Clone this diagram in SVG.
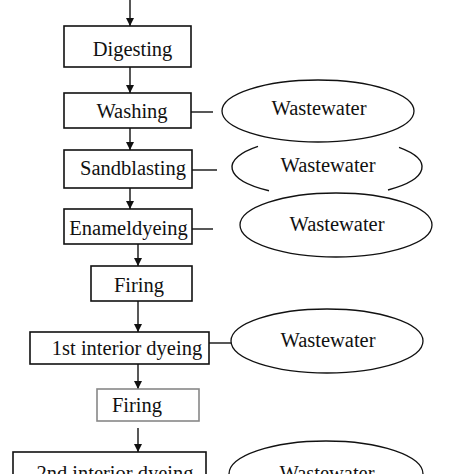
<svg xmlns="http://www.w3.org/2000/svg" width="474" height="474" viewBox="0 0 474 474">
<style>
.box{fill:#fff;stroke:#111;stroke-width:1.6}
.ell{fill:#fff;stroke:#111;stroke-width:1.3}
.t{font-family:"Liberation Serif","Times New Roman",serif;font-size:20.5px;fill:#111;text-anchor:middle}
.ln{stroke:#111;stroke-width:1.4;fill:none}
</style>
<defs>
<marker id="ah" markerUnits="userSpaceOnUse" markerWidth="9" markerHeight="9" refX="8" refY="4" orient="auto">
<path d="M0,0 L8,4 L0,8 z" fill="#111"/>
</marker>
</defs>
<rect width="474" height="474" fill="#fff"/>
<g id="connectors">
<line class="ln" x1="130" y1="0" x2="130" y2="26" marker-end="url(#ah)"/>
<line class="ln" x1="130" y1="67" x2="130" y2="93" marker-end="url(#ah)"/>
<line class="ln" x1="130" y1="128" x2="130" y2="150" marker-end="url(#ah)"/>
<line class="ln" x1="130" y1="188" x2="130" y2="209" marker-end="url(#ah)"/>
<line class="ln" x1="138" y1="244" x2="138" y2="266" marker-end="url(#ah)"/>
<line class="ln" x1="138" y1="301" x2="138" y2="332" marker-end="url(#ah)"/>
<line class="ln" x1="138" y1="364" x2="138" y2="389" marker-end="url(#ah)"/>
<line class="ln" x1="138" y1="428" x2="138" y2="452" marker-end="url(#ah)"/>
<line class="ln" x1="191" y1="112" x2="213" y2="112"/>
<line class="ln" x1="192" y1="170" x2="217" y2="170"/>
<line class="ln" x1="192" y1="229" x2="213" y2="229"/>
<line class="ln" x1="209" y1="343" x2="232" y2="343" stroke="#555"/>
</g>
<g id="digesting"><rect class="box" x="64" y="26" width="127" height="41"/><text class="t" x="132.5" y="56">Digesting</text></g>
<g id="washing"><rect class="box" x="64" y="93" width="127" height="35"/><text class="t" x="132" y="118">Washing</text></g>
<g id="sandblasting"><rect class="box" x="64" y="150" width="128" height="38"/><text class="t" x="133" y="175">Sandblasting</text></g>
<g id="enameldyeing"><rect class="box" x="64" y="209" width="128" height="35"/><text class="t" x="128.5" y="235">Enameldyeing</text></g>
<g id="firing1"><rect class="box" x="91" y="266" width="101" height="35"/><text class="t" x="139" y="291.5">Firing</text></g>
<g id="interior1"><rect class="box" x="30" y="332" width="179" height="32"/><text class="t" x="127" y="354.5">1st interior dyeing</text></g>
<g id="firing2"><rect class="box" x="97" y="389" width="102" height="32" style="stroke:#888"/><text class="t" x="137" y="411.5">Firing</text></g>
<g id="interior2"><rect class="box" x="13" y="452" width="193" height="30"/><text class="t" x="115" y="480">2nd interior dyeing</text></g>
<g id="wastewater2"><path class="ln" d="M258,146.4 A95,30 0 0,0 269,190.8"/><path class="ln" d="M399,147.4 A95,30 0 0,1 388,190"/><text class="t" x="328" y="171.5">Wastewater</text></g>
<g id="wastewater1"><ellipse class="ell" cx="318" cy="111" rx="96" ry="31"/><text class="t" x="319" y="115">Wastewater</text></g>
<g id="wastewater3"><ellipse class="ell" cx="336" cy="225" rx="96" ry="32"/><text class="t" x="337" y="230.5">Wastewater</text></g>
<g id="wastewater4"><ellipse class="ell" cx="327" cy="341" rx="96" ry="32"/><text class="t" x="328" y="346.5">Wastewater</text></g>
<g id="wastewater5"><ellipse class="ell" cx="326" cy="474" rx="97" ry="33"/><text class="t" x="327" y="479.5">Wastewater</text></g>
</svg>
